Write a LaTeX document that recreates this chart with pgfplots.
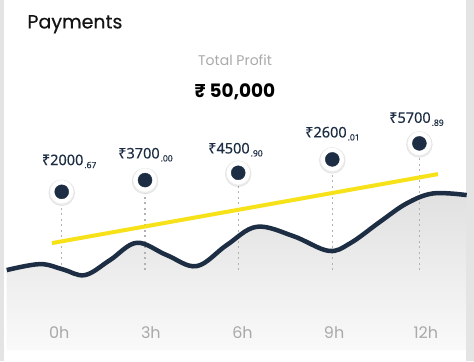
\documentclass[border=0pt]{standalone}
\usepackage{pgfplots}
\pgfplotsset{compat=1.18}
\usepackage{fontspec}
\setmainfont{Poppins}
\newfontfamily\titlef{Poppins}[FakeBold=0.5]
\newfontfamily\lab{Noto Sans}[FakeBold=0.3]
\definecolor{navy}{HTML}{1D2E44}
\definecolor{yel}{HTML}{F7E21A}
\definecolor{txtgray}{HTML}{A9A9A9}
\definecolor{cardgray}{HTML}{E4E4E4}
\newcommand{\val}[2]{{\lab\fontsize{14.5}{14.5}\selectfont ₹#1\hspace{1pt}\raisebox{-3pt}{\fontsize{8.5}{8.5}\selectfont.#2}}}
\begin{document}
\begin{tikzpicture}
\begin{axis}[
  scale only axis, width=474pt, height=361pt,
  xmin=-1.938, xmax=13.578, ymin=0, ymax=361,
  axis line style={draw=none},
  axis on top,
  ytick=\empty,
  xtick={0,3,6,9,12},
  xticklabels={0h,3h,6h,9h,12h},
  major tick length=0pt,
  xticklabel style={font=\fontsize{16}{16}\selectfont, text=txtgray, anchor=base, yshift=23pt, inner sep=0pt},
  unbounded coords=jump,
  clip=false,
]
% area under curve
\addplot[draw=none, top color=gray!24, bottom color=gray!3, smooth, tension=0.6] coordinates {
(-1.718,91) (-0.628,97) (0.124,91.7) (0.844,86) (1.663,101) (2.537,118.3)
(3.519,106) (4.501,95) (5.483,116) (6.465,134.3) (7.663,125) (8.809,110.3)
(9.518,117.7) (10.501,139.3) (11.375,157.7) (12.245,167.7) (13.339,166)} \closedcycle;
% white band at the bottom and card borders
\fill[white] (axis cs:-1.938,0) rectangle (axis cs:13.578,11);
\fill[cardgray] (axis cs:-1.938,0) rectangle (axis cs:-1.807,361);
\fill[cardgray] (axis cs:13.316,0) rectangle (axis cs:13.578,361);
% dotted guide lines
\addplot[black!30, line width=1.2pt, dash pattern=on 2pt off 3.5pt] coordinates {
(0.082,91) (0.082,156) (nan,nan)
(2.81,91) (2.81,168) (nan,nan)
(5.86,91) (5.86,175) (nan,nan)
(8.94,91) (8.94,189) (nan,nan)
(11.79,91) (11.79,205)};
% trend line
\addplot[yel, line width=4pt] coordinates {(-0.236,118) (12.399,187)};
% curve
\addplot[navy, line width=4.5pt, smooth, tension=0.6] coordinates {
(-1.718,91) (-0.628,97) (0.124,91.7) (0.844,86) (1.663,101) (2.537,118.3)
(3.519,106) (4.501,95) (5.483,116) (6.465,134.3) (7.663,125) (8.809,110.3)
(9.518,117.7) (10.501,139.3) (11.375,157.7) (12.245,167.7) (13.339,166)};
% points: halo, white disc, navy dot
\addplot[only marks, mark=*, black, opacity=0.08, mark size=13pt] coordinates {
(0.082,168.3) (2.81,180) (5.86,187.3) (8.94,200.7) (11.79,216.7)};
\addplot[only marks, mark=*, white, mark size=11.5pt] coordinates {
(0.082,169.3) (2.81,181) (5.86,188.3) (8.94,201.7) (11.79,217.7)};
\addplot[only marks, mark=*, navy, mark size=7pt] coordinates {
(0.082,169.3) (2.81,181) (5.86,188.3) (8.94,201.7) (11.79,217.7)};
% value labels
\node[anchor=base west, inner sep=0pt, text=navy] at (axis cs:-0.573,196) {\val{2000}{67}};
\node[anchor=base west, inner sep=0pt, text=navy] at (axis cs:1.925,202.7) {\val{3700}{00}};
\node[anchor=base west, inner sep=0pt, text=navy] at (axis cs:4.871,207.7) {\val{4500}{90}};
\node[anchor=base west, inner sep=0pt, text=navy] at (axis cs:8.046,223.7) {\val{2600}{01}};
\node[anchor=base west, inner sep=0pt, text=navy] at (axis cs:10.796,238.3) {\val{5700}{89}};
% titles
\node[anchor=base west, inner sep=0pt, text=black!92] at (axis cs:-1.044,332.7) {\titlef\fontsize{19}{19}\selectfont Payments};
\node[anchor=base, inner sep=0pt, text=txtgray] at (axis cs:5.755,295.3) {\fontsize{14}{14}\selectfont Total Profit};
\node[anchor=base, inner sep=0pt, text=black] at (axis cs:5.755,263.3) {\fontsize{18.5}{18.5}\selectfont\bfseries ₹ 50,000};
\end{axis}
\end{tikzpicture}
\end{document}
